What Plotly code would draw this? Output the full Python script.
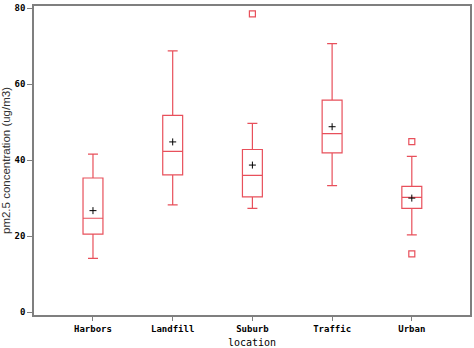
import plotly.graph_objects as go

locations = ["Harbors", "Landfill", "Suburb", "Traffic", "Urban"]
q1 = [20.5, 36.1, 30.3, 41.9, 27.3]
median = [24.7, 42.3, 36.0, 47.0, 30.2]
q3 = [35.3, 51.8, 42.8, 55.8, 33.1]
lower_whisker = [14.1, 28.2, 27.3, 33.3, 20.3]
upper_whisker = [41.6, 68.8, 49.7, 70.7, 41.0]
means = [26.7, 44.8, 38.7, 48.8, 30.0]
outlier_loc = ["Suburb", "Urban", "Urban"]
outlier_val = [78.5, 44.9, 15.3]
y_ticks = [0, 20, 40, 60, 80]

RED = "#e8505b"
GRAY = "#7f7f7f"

fig = go.Figure()
fig.add_trace(go.Box(
    x=locations, q1=q1, median=median, q3=q3,
    lowerfence=lower_whisker, upperfence=upper_whisker,
    width=0.25, whiskerwidth=0.5,
    line=dict(color=RED, width=1.2),
    fillcolor="rgba(0,0,0,0)",
    boxpoints=False, showlegend=False, hoverinfo="skip",
))
fig.add_trace(go.Scatter(
    x=locations, y=means, mode="markers",
    marker=dict(symbol="cross-thin", size=5, color="black",
                line=dict(color="black", width=1)),
    showlegend=False, hoverinfo="skip",
))
fig.add_trace(go.Scatter(
    x=outlier_loc, y=outlier_val, mode="markers",
    marker=dict(symbol="square-open", size=6, color=RED,
                line=dict(color=RED, width=1.2)),
    showlegend=False, hoverinfo="skip",
))

tickfont = dict(family="DejaVu Sans Mono", size=9, color="black", weight="bold")
fig.update_layout(
    width=474, height=348,
    margin=dict(l=34, r=4, t=6, b=33),
    paper_bgcolor="white", plot_bgcolor="white",
    xaxis=dict(
        type="category", categoryorder="array", categoryarray=locations,
        range=[-0.74, 4.73], automargin=False,
        showline=True, linecolor=GRAY, linewidth=1.5, mirror=True,
        ticks="outside", ticklen=4, tickcolor=GRAY, tickwidth=1,
        showgrid=False, zeroline=False, tickfont=tickfont,
        title=dict(text="location", standoff=9,
                   font=dict(family="DejaVu Sans Mono", size=10, color="black")),
    ),
    yaxis=dict(
        range=[-0.79, 80.6], automargin=False,
        tickvals=y_ticks, ticktext=[str(v) for v in y_ticks],
        showline=True, linecolor=GRAY, linewidth=1.5, mirror=True,
        ticks="outside", ticklen=5, tickcolor=GRAY, tickwidth=1,
        showgrid=False, zeroline=False, tickfont=tickfont,
        title=dict(text="pm2.5 concentration (ug/m3)", standoff=7,
                   font=dict(family="Liberation Sans", size=11.5, color="#333333")),
    ),
)

fig.write_html("out.html")
